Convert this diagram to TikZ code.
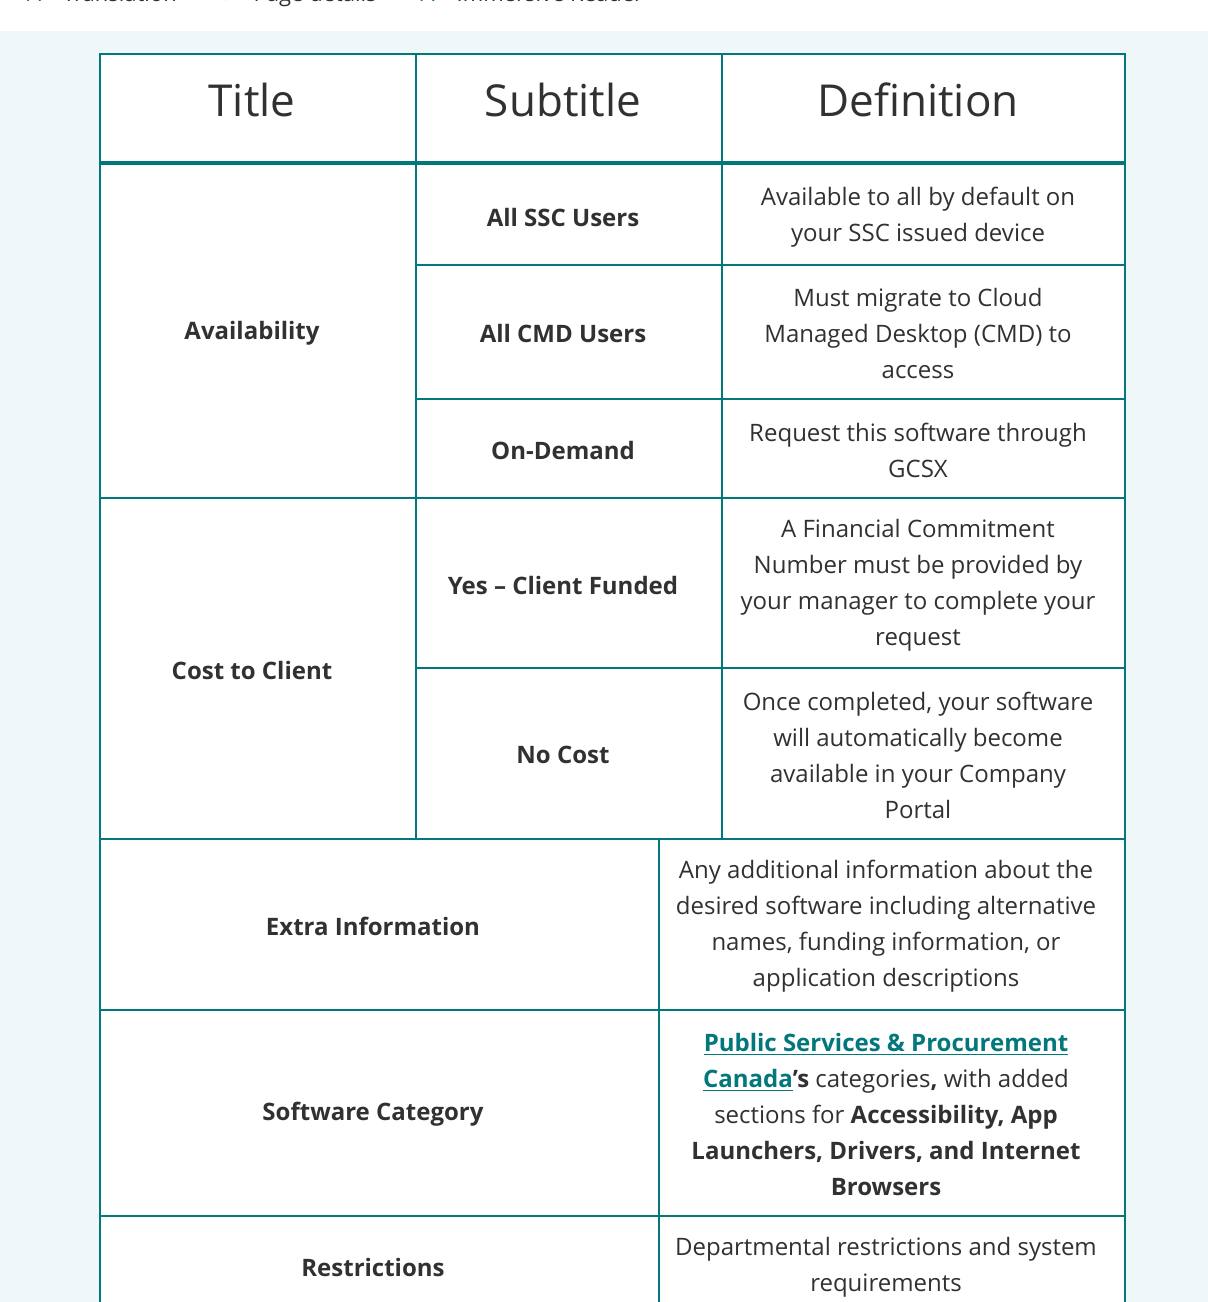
\documentclass[tikz,border=0pt]{standalone}
\usepackage{fontspec}
\setmainfont{Open Sans}
\usetikzlibrary{positioning}
\definecolor{teal}{RGB}{3,120,124}
\definecolor{ink}{RGB}{50,49,48}
\definecolor{pagebg}{RGB}{239,247,249}
\newcommand{\lnk}[1]{\textcolor{teal}{\underline{\textbf{#1}}}}
\tikzset{
  cellline/.style={draw=teal,line width=1pt},
  head/.style={font=\fontsize{22}{26}\selectfont,text=ink},
  key/.style={font=\fontsize{12}{18}\selectfont\bfseries,text=ink,align=center},
  body/.style={font=\fontsize{12}{18}\selectfont,text=ink,align=center},
}
\begin{document}
\begin{tikzpicture}[x=0.5pt,y=-0.5pt]
  \clip (0,0) rectangle (1208,1302);
  \fill[white] (0,0) rectangle (1208,31);
  \fill[pagebg] (0,31) rectangle (1208,1302);
  \node[anchor=west,text=ink,font=\fontsize{11}{13}\selectfont] (bar) at (20,-4) {\textcolor{teal}{A}\quad Translation\qquad\textcolor{teal}{$\ast$}\quad Page details\qquad\textcolor{teal}{A}\quad Immersive Reader};
  \fill[white] (100,54) rectangle (1125,1310);

  % grid
  \draw[cellline] (100,54) rectangle (1125,1310);
  \draw[cellline] (416,54) -- (416,839);
  \draw[cellline] (722,54) -- (722,839);
  \draw[cellline] (659,839) -- (659,1310);
  \draw[draw=teal,line width=2.2pt] (100,163) -- (1125,163);
  \draw[cellline] (416,265) -- (1125,265);
  \draw[cellline] (416,399) -- (1125,399);
  \draw[cellline] (100,498) -- (1125,498);
  \draw[cellline] (416,668) -- (1125,668);
  \draw[cellline] (100,839) -- (1125,839);
  \draw[cellline] (100,1010) -- (1125,1010);
  \draw[cellline] (100,1216) -- (1125,1216);

  % header
  \node[head] (title) at (252,100) {Title};
  \node[head] (subtitle) at (563,100) {Subtitle};
  \node[head] (definition) at (918,100) {Definition};

  % rows
  \node[key] (avail) at (252,333) {Availability};
  \node[key] (ssc) at (563,217) {All SSC Users};
  \node[body] (sscdef) at (918,217) {Available to all by default on\\your SSC issued device};
  \node[key] (cmd) at (563,333) {All CMD Users};
  \node[body] (cmddef) at (918,333) {Must migrate to Cloud\\Managed Desktop (CMD) to\\access};
  \node[key] (demand) at (563,450) {On-Demand};
  \node[body] (demanddef) at (918,450) {Request this software through\\GCSX};

  \node[key] (cost) at (252,670) {Cost to Client};
  \node[key] (funded) at (563,585) {Yes – Client Funded};
  \node[body] (fundeddef) at (918,585) {A Financial Commitment\\Number must be provided by\\your manager to complete your\\request};
  \node[key] (nocost) at (563,755) {No Cost};
  \node[body] (nocostdef) at (918,755) {Once completed, your software\\will automatically become\\available in your Company\\Portal};

  \node[key] (extra) at (373,926) {Extra Information};
  \node[body] (extradef) at (886,926) {Any additional information about the\\desired software including alternative\\names, funding information, or\\application descriptions};
  \node[key] (category) at (373,1114) {Software Category};
  \node[body] (categorydef) at (886,1114) {\lnk{Public Services \& Procurement}\\\lnk{Canada}\textbf{’s} categories\textbf{,} with added\\sections for \textbf{Accessibility, App}\\\textbf{Launchers, Drivers, and Internet}\\\textbf{Browsers}};
  \node[key] (restrict) at (373,1267) {Restrictions};
  \node[body] (restrictdef) at (886,1267) {Departmental restrictions and system\\requirements};
\end{tikzpicture}
\end{document}
